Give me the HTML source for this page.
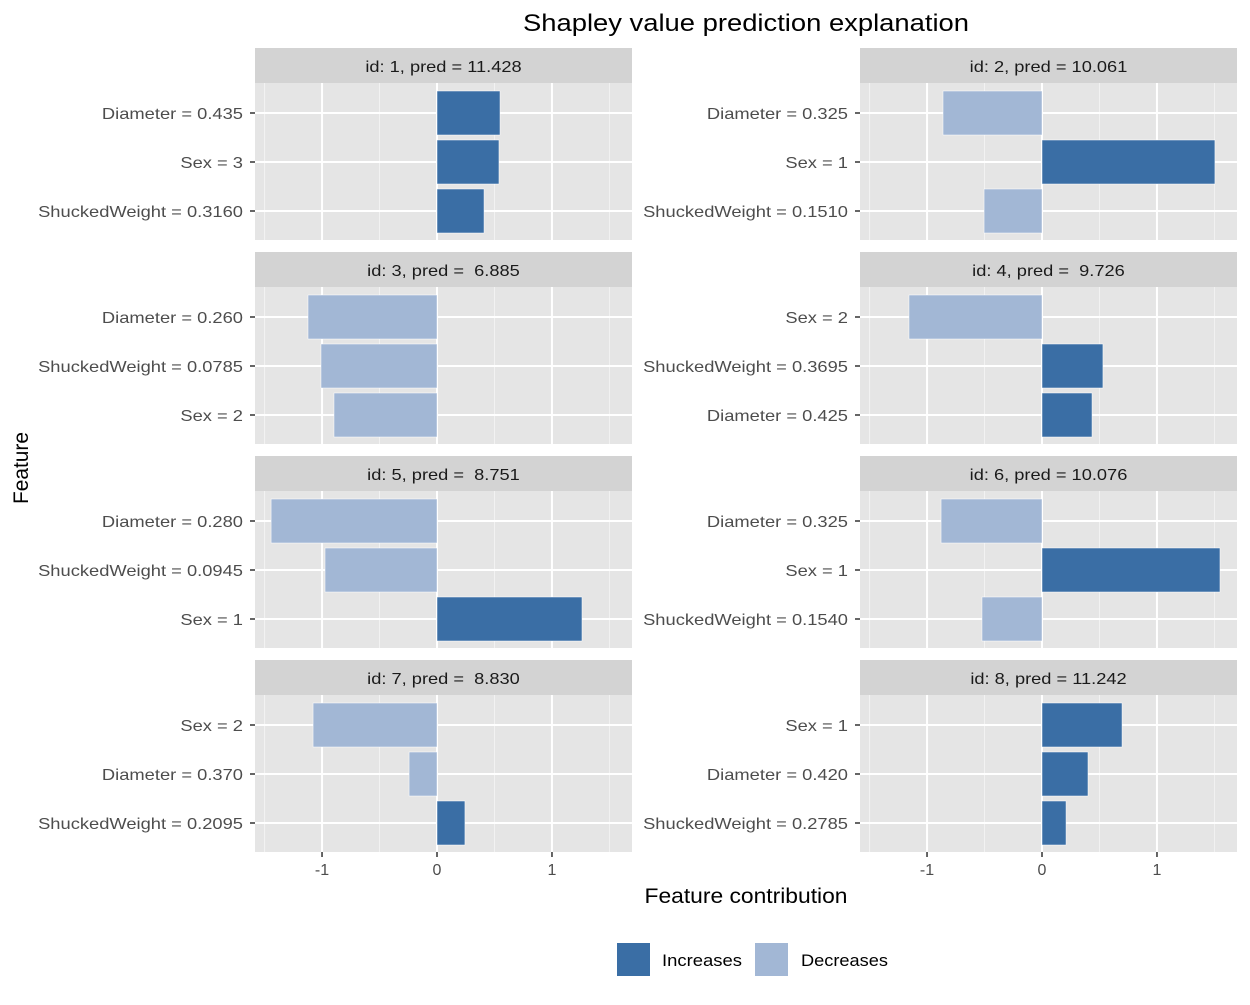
<!DOCTYPE html>
<html><head><meta charset="utf-8"><style>
body{margin:0;background:#fff;font-family:"Liberation Sans",sans-serif}
text{white-space:pre}
</style></head><body>
<svg id="c" width="1250" height="1000" xmlns="http://www.w3.org/2000/svg" font-family="Liberation Sans, sans-serif">
<text x="746" y="31" font-size="24" text-anchor="middle" fill="#000" textLength="446" lengthAdjust="spacingAndGlyphs">Shapley value prediction explanation</text>
<text x="746" y="903" font-size="21" text-anchor="middle" fill="#000" textLength="203" lengthAdjust="spacingAndGlyphs">Feature contribution</text>
<text x="28" y="468" font-size="21" text-anchor="middle" fill="#000" transform="rotate(-90 28 468)" textLength="72" lengthAdjust="spacingAndGlyphs">Feature</text>
<g>
<rect x="617" y="943" width="33" height="33" fill="#3a6ea5"/>
<text x="662" y="966" font-size="17" fill="#000" textLength="80" lengthAdjust="spacingAndGlyphs">Increases</text>
<rect x="755" y="943" width="33" height="33" fill="#a2b7d5"/>
<text x="801" y="966" font-size="17" fill="#000" textLength="87" lengthAdjust="spacingAndGlyphs">Decreases</text>
</g>
</svg>
<script>
const panelTitles=["id: 1, pred = 11.428","id: 2, pred = 10.061","id: 3, pred =  6.885","id: 4, pred =  9.726","id: 5, pred =  8.751","id: 6, pred = 10.076","id: 7, pred =  8.830","id: 8, pred = 11.242"];
const features=[
["Diameter = 0.435","Sex = 3","ShuckedWeight = 0.3160"],
["Diameter = 0.325","Sex = 1","ShuckedWeight = 0.1510"],
["Diameter = 0.260","ShuckedWeight = 0.0785","Sex = 2"],
["Sex = 2","ShuckedWeight = 0.3695","Diameter = 0.425"],
["Diameter = 0.280","ShuckedWeight = 0.0945","Sex = 1"],
["Diameter = 0.325","Sex = 1","ShuckedWeight = 0.1540"],
["Sex = 2","Diameter = 0.370","ShuckedWeight = 0.2095"],
["Sex = 1","Diameter = 0.420","ShuckedWeight = 0.2785"]];
const contributions=[
[0.548,0.539,0.409],
[-0.861,1.504,-0.504],
[-1.122,-1.009,-0.896],
[-1.157,0.530,0.435],
[-1.443,-0.974,1.261],
[-0.878,1.548,-0.522],
[-1.078,-0.243,0.243],
[0.696,0.400,0.209]];
const xTicks=[-1,0,1];
const xMinor=[-1.5,-0.5,0.5,1.5];
const svg=document.getElementById('c');
const NS="http://www.w3.org/2000/svg";
function mk(t,a,p){const e=document.createElementNS(NS,t);for(const k in a)e.setAttribute(k,a[k]);(p||svg).appendChild(e);return e;}
function widen(t,f){const w=t.getComputedTextLength();if(w>0){t.setAttribute('textLength',w*f);t.setAttribute('lengthAdjust','spacingAndGlyphs');}}
const colX=[255,860],colW=377,rowY=[48,252,456,660],stripH=35,panH=157;
const xmin=-1.583,xmax=1.696;
for(let i=0;i<8;i++){
  const c=i%2,r=Math.floor(i/2);
  const x0=colX[c],y0=rowY[r]+stripH;
  const sx=v=>x0+(v-xmin)/(xmax-xmin)*colW;
  const g=mk('g',{});
  
  
  const st=mk('rect',{x:x0,y:rowY[r],width:colW,height:stripH,fill:'#d3d3d3'},g);
  
  
  const stt=mk('text',{x:x0+colW/2,y:rowY[r]+24,'font-size':16,'text-anchor':'middle',fill:'#1a1a1a'},g);
  stt.textContent=panelTitles[i];
  
  
  widen(stt,1.14);
  const bg=mk('rect',{x:x0,y:y0,width:colW,height:panH,fill:'#e5e5e5'},g);
  
  
  xMinor.forEach(v=>{const l=mk('line',{x1:sx(v),x2:sx(v),y1:y0,y2:y0+panH,stroke:'#f2f2f2','stroke-width':1},g);});
  const rowsY=[30,79,128];
  rowsY.forEach(dy=>{const l=mk('line',{x1:x0,x2:x0+colW,y1:y0+dy,y2:y0+dy,stroke:'#fff','stroke-width':2},g);});
  xTicks.forEach(v=>{const l=mk('line',{x1:sx(v),x2:sx(v),y1:y0,y2:y0+panH,stroke:'#fff','stroke-width':2},g);});
  for(let j=0;j<3;j++){
    const v=contributions[i][j],cy=y0+rowsY[j];
    const a=sx(Math.min(0,v)),b=sx(Math.max(0,v));
    const bar=mk('rect',{x:a,y:cy-22,width:b-a,height:44,fill:v>=0?'#3a6ea5':'#a2b7d5',stroke:'#fff','stroke-width':0.5},g);
    
    
    const tk=mk('line',{x1:x0-5,x2:x0,y1:cy,y2:cy,stroke:'#333','stroke-width':1.5},g);
    
    
    const lb=mk('text',{x:x0-12,y:cy+6,'font-size':16,'text-anchor':'end',fill:'#4d4d4d'},g);
    lb.textContent=features[i][j];
    
    
    widen(lb,1.145);
  }
  if(r===3){
    xTicks.forEach(v=>{
      const tk=mk('line',{x1:sx(v),x2:sx(v),y1:y0+panH,y2:y0+panH+5,stroke:'#333','stroke-width':1.5},g);
      
      
      const t=mk('text',{x:sx(v),y:y0+panH+23,'font-size':16,'text-anchor':'middle',fill:'#4d4d4d'},g);
      t.textContent=v;
      
      
    });
  }
}
</script>
</body></html>
